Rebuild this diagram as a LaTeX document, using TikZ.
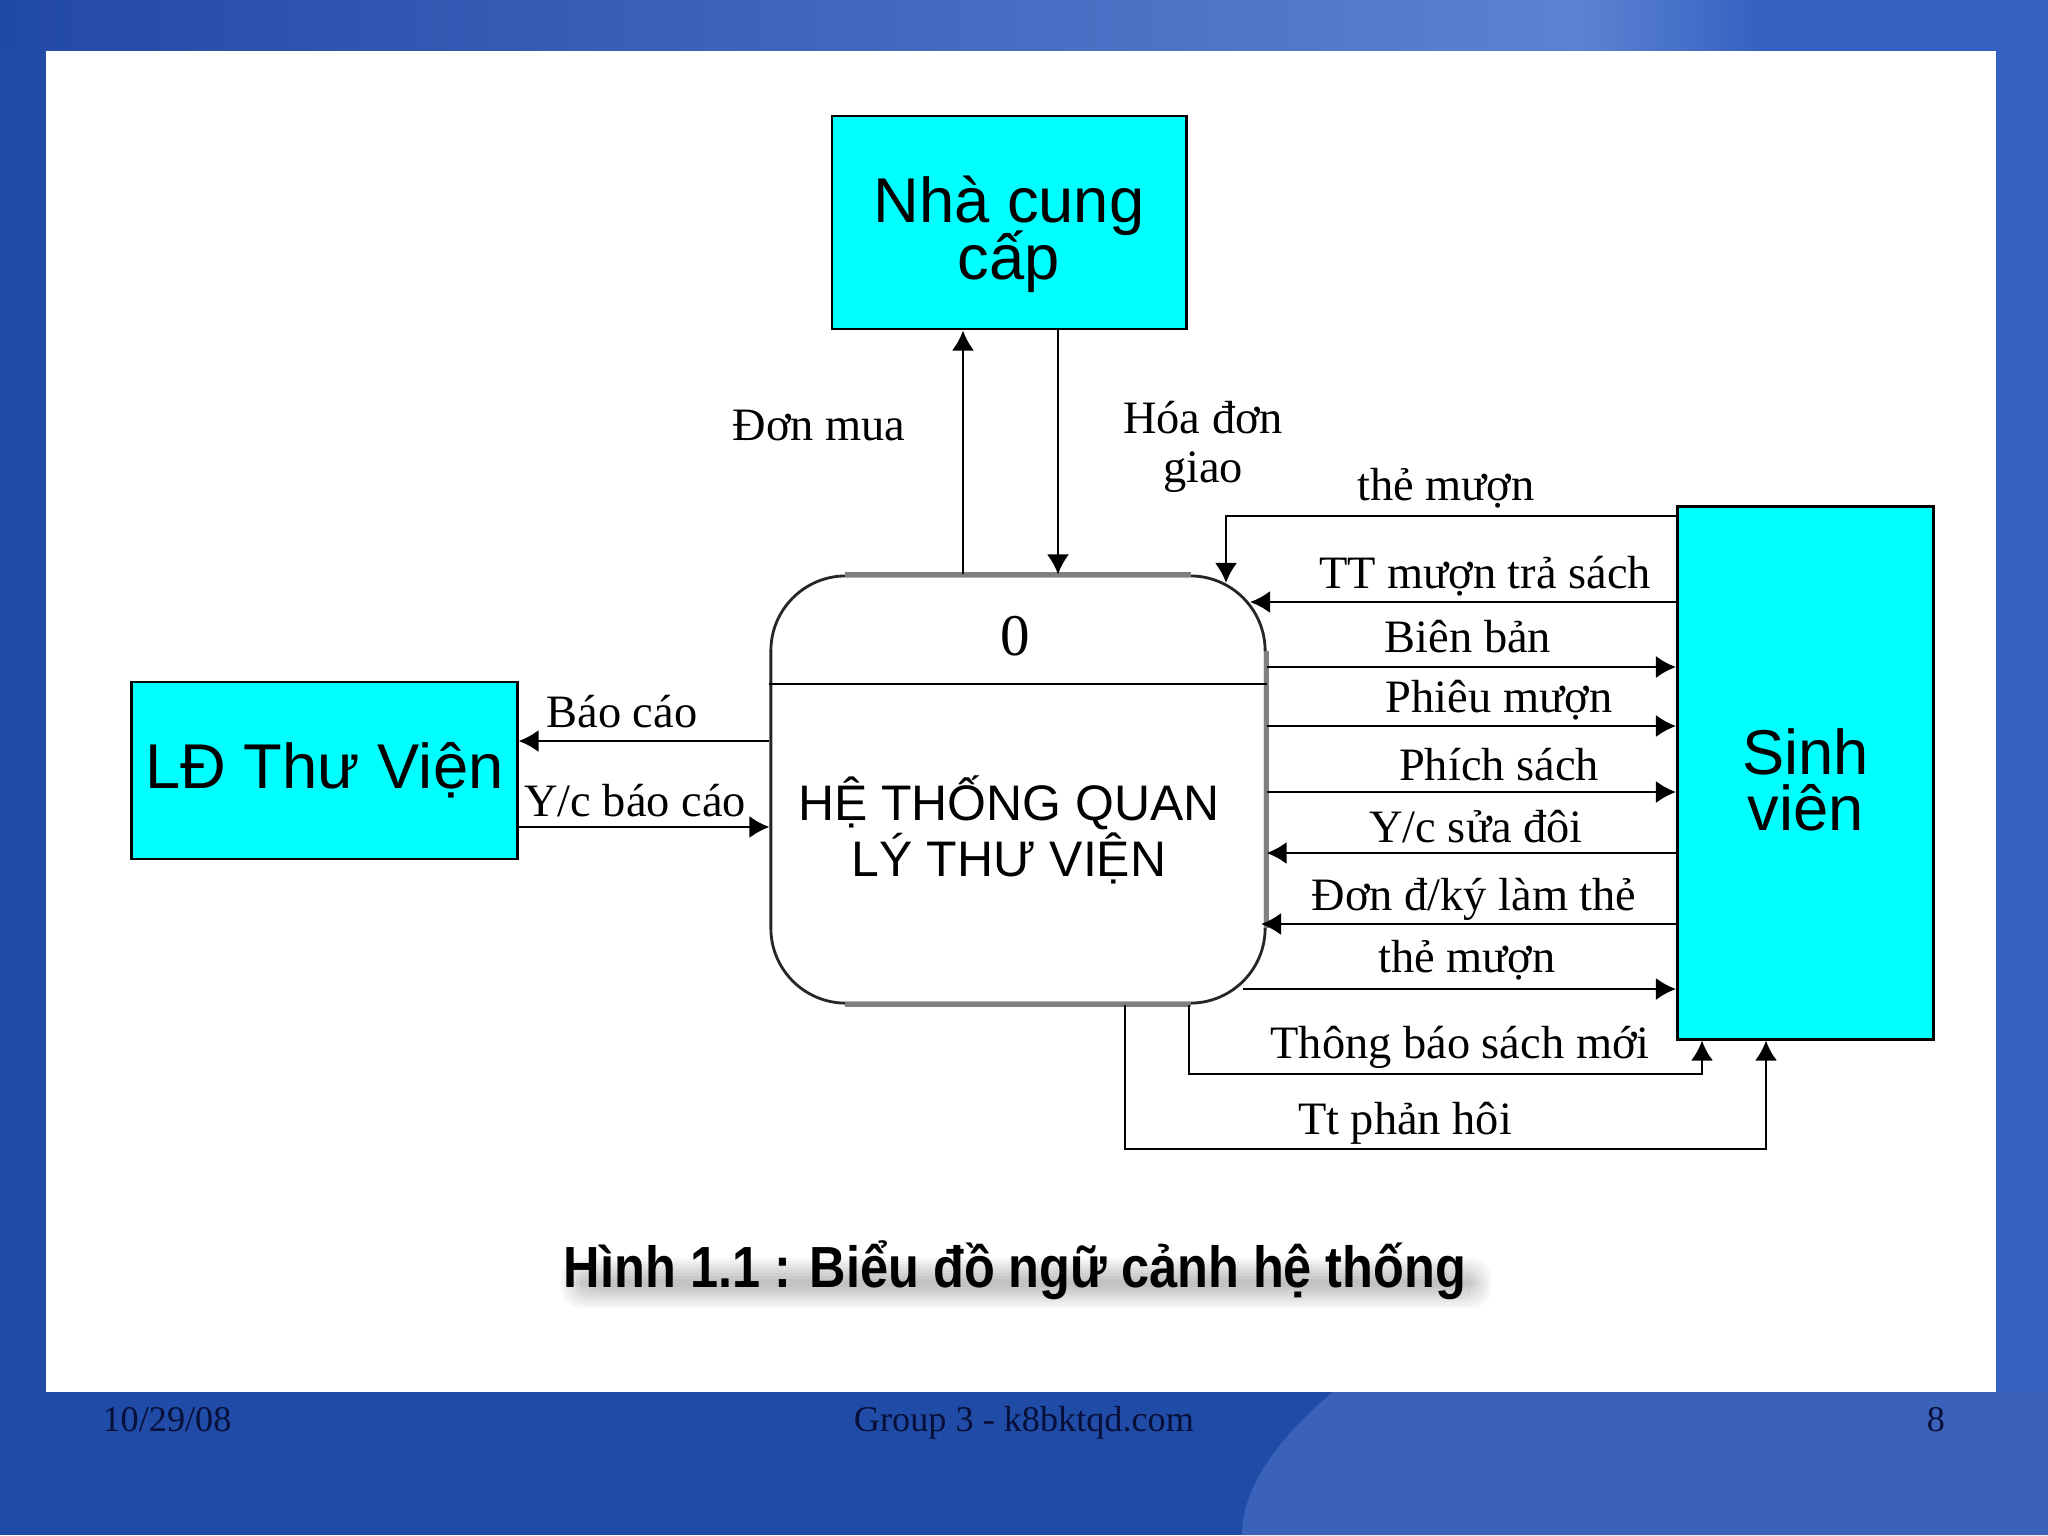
\documentclass[tikz,border=0pt]{standalone}
\usepackage{fontspec}
\setmainfont{Liberation Serif}
\newfontfamily\boxfont{Liberation Sans}
\newfontfamily\capfont[FakeStretch=0.87]{Liberation Sans Bold}
\newcommand{\tightlines}{\lineskiplimit=-20pt\relax}
\usetikzlibrary{shapes,arrows.meta}
\definecolor{boxcyan}{HTML}{00FFFF}
\definecolor{bgblue}{HTML}{204CA8}
\definecolor{bglight}{HTML}{3A62B8}
\definecolor{topdark}{HTML}{2149A6}
\definecolor{toplight}{HTML}{5C82D2}
\definecolor{topright}{HTML}{3562C2}
\definecolor{footblue}{HTML}{080F38}
\tikzstyle{mybox}=[rectangle,draw=black,fill=boxcyan,line width=.8pt,inner sep=0pt,align=center,font=\boxfont\fontsize{18}{16}\selectfont\tightlines]
\tikzstyle{myarrow}=[line width=.75pt,>={Latex[length=5.7pt,width=6.3pt]},->]
\tikzstyle{myedge}=[black!50,line width=1.2pt]
\tikzstyle{mylabel}=[inner sep=0pt,anchor=base,font=\fontsize{13.2}{14}\selectfont]
\tikzstyle{myfoot}=[inner sep=0pt,anchor=base,text=footblue,font=\fontsize{10.3}{12}\selectfont]

\begin{document}
\begin{tikzpicture}[x=0.01cm,y=-0.01cm]
	\useasboundingbox (0,0) rectangle (2048,1535);
	\fill[bgblue] (0,0) rectangle (2048,1535);
	\shade[left color=topdark,right color=toplight] (0,0) rectangle (1580,51);
	\shade[left color=toplight,right color=topright] (1580,0) rectangle (1760,51);
	\fill[topright] (1760,0) rectangle (2048,51);
	\fill[topright] (1996,51) rectangle (2048,1392);
	\fill[bglight] (1333,1392) .. controls (1275,1440) and (1242,1490) .. (1242,1535) -- (2048,1535) -- (2048,1392) -- cycle;
	\fill[white] (46,51) rectangle (1996,1392);

	\node[mybox,minimum width=3.54cm,minimum height=2.13cm] (ncc) at (1009,222.5) {\rule{0pt}{20pt}Nhà cung\\cấp};
	\node[mybox,minimum width=3.85cm,minimum height=1.77cm] (ldtv) at (324.5,770.5) {LĐ Thư Viện};
	\node[mybox,minimum width=2.56cm,minimum height=5.32cm] (sinhvien) at (1805.5,773) {\rule{0pt}{17pt}Sinh\\viên};

	\node[rectangle,draw=black!85,line width=.8pt,rounded corners=0.75cm,minimum width=4.94cm,minimum height=4.27cm,inner sep=0pt] (hethong) at (1018,789.5) {};
	\draw[myedge] (hethong.north -| 845,0) -- (hethong.north -| 1191,0);
	\draw[myedge] (hethong.south -| 845,0) -- (hethong.south -| 1191,0);
	\draw[myedge] (hethong.east |- 0,651) -- (hethong.east |- 0,928);
	\draw[line width=.7pt] (hethong.west |- 0,684) -- (hethong.east |- 0,684);
	\node[inner sep=0pt,font=\fontsize{16.8}{16}\selectfont] (so) at (1015,636) {0};
	\node[inner sep=0pt,align=center,font=\boxfont\fontsize{14.2}{16}\selectfont\tightlines] (tenht) at (1009,830) {HỆ THỐNG QUAN\\LÝ THƯ VIỆN};

	\draw[myarrow] (hethong.north -| 963,0) -- (ncc.south -| 963,0);
	\draw[myarrow] (ncc.south -| 1058,0) -- (hethong.north -| 1058,0);
	\draw[myarrow] (hethong.west |- 0,741) -- (ldtv.east |- 0,741);
	\draw[myarrow] (ldtv.east |- 0,827) -- (hethong.west |- 0,827);

	\coordinate (vao1) at (1226,583);
	\coordinate (vao2) at (1250,602);
	\coordinate (vao3) at (1261,924);
	\coordinate (ra1) at (1243,989);
	\draw[myarrow] (sinhvien.west |- 0,516) -| (vao1);
	\draw[myarrow] (sinhvien.west |- vao2) -- (vao2);
	\draw[myarrow] (sinhvien.west |- vao3) -- (vao3);
	\draw[myarrow] (ra1) -- (sinhvien.west |- ra1);
	\foreach \y in {667,726,792} { \draw[myarrow] (hethong.east |- 0,\y) -- (sinhvien.west |- 0,\y);}
	\draw[myarrow] (sinhvien.west |- 0,853) -- (hethong.east |- 0,853);
	\draw[myarrow] (hethong.south -| 1189,0) |- (1702,1074) -- (sinhvien.south -| 1702,0);
	\draw[myarrow] (hethong.south -| 1125,0) |- (1766,1149) -- (sinhvien.south -| 1766,0);

	\foreach \x / \y / \t / \n in {819/440/{Đơn mua}/a,1446/500/{thẻ mượn}/b,1485/588/{TT mượn trả sách}/c,1468/652/{Biên bản}/d,1499/712/{Phiêu mượn}/e,1499/780/{Phích sách}/f,1476/842/{Y/c sửa đôi}/g,1474/910/{Đơn đ/ký làm thẻ}/h,1467/972/{thẻ mượn}/i,1460/1058/{Thông báo sách mới}/j,1405/1134/{Tt phản hôi}/k,622/727/{Báo cáo}/l,635/816/{Y/c báo cáo}/m} {\node[mylabel] (lb\n) at (\x,\y) {\t};}
	\node[inner sep=0pt,align=center,font=\fontsize{13.2}{14}\selectfont] (lbhd) at (1203,447) {Hóa đơn\\giao};

	\foreach \w / \h in {930/50,924/44,918/38,912/32,906/26,900/20,894/14,888/8} {\fill[black,opacity=.03,rounded corners=.2cm] ({1026-\w/2},{1283-\h/2}) rectangle ({1026+\w/2},{1283+\h/2});}
	\node[inner sep=0pt,font=\capfont\fontsize{16.5}{18}\selectfont] (hinh) at (1015,1270) {Hình 1.1 : Biểu đồ ngữ cảnh hệ thống};

	\node[myfoot] (ngay) at (167,1431) {10/29/08};
	\node[myfoot] (nhom) at (1024,1431) {Group 3 - k8bktqd.com};
	\node[myfoot] (trang) at (1936,1431) {8};
\end{tikzpicture}
\end{document}
